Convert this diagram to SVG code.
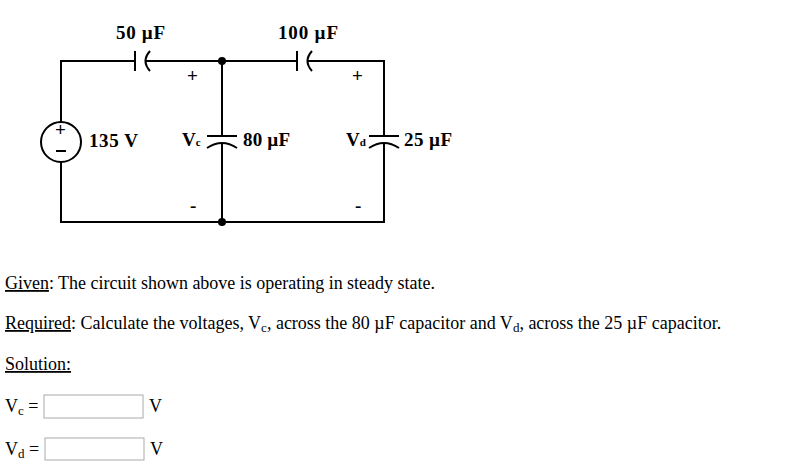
<svg xmlns="http://www.w3.org/2000/svg" width="791" height="472" viewBox="0 0 791 472">
<style>
.w{stroke:#000;stroke-width:2;fill:none}
.lb{font-family:"Liberation Serif",serif;font-weight:bold;font-size:19px}
.t{font-family:"Liberation Serif",serif;font-size:18px}
.box{fill:#fff;stroke:#aaa;stroke-width:1}
</style>
<rect width="791" height="472" fill="#fff"/>
<g id="connectors">
<path class="w" d="M61,122 V61 H135 M145,61 H297 M307,61 H384 V136 M384,143 V222 H61 V162 M222,61 V136 M222,143 V222"/>
</g>
<g id="c50"><path class="w" d="M135,51 V71 M150,51 Q141,61 150,71"/><text class="lb" x="116" y="39" textLength="49">50 µF</text></g>
<g id="c100"><path class="w" d="M297,51 V71 M312,51 Q303,61 312,71"/><text class="lb" x="278" y="39" textLength="60">100 µF</text></g>
<g id="c80"><path class="w" d="M207,136 H237 M207,148 Q222,138 237,148"/><text class="lb" x="243" y="146" textLength="47">80 µF</text><text class="lb" x="182" y="146">V<tspan font-size="11">c</tspan></text><text class="lb" x="187" y="82">+</text><text class="lb" x="190" y="212">-</text></g>
<g id="c25"><path class="w" d="M369,136 H399 M369,148 Q384,138 399,148"/><text class="lb" x="404" y="146" textLength="48">25 µF</text><text class="lb" x="346" y="146">V<tspan font-size="11">d</tspan></text><text class="lb" x="352" y="82">+</text><text class="lb" x="355" y="212">-</text></g>
<g id="src"><circle class="w" cx="61" cy="142" r="20"/><text class="lb" x="55" y="136" font-size="14">+</text><path d="M56,151 H66" stroke="#000" stroke-width="2"/><text class="lb" x="89" y="147" textLength="49">135 V</text></g>
<circle cx="222" cy="61" r="4"/><circle cx="222" cy="222" r="4"/>
<text class="t" x="5" y="289" textLength="430"><tspan text-decoration="underline">Given</tspan>: The circuit shown above is operating in steady state.</text>
<text class="t" x="5" y="329"><tspan text-decoration="underline">Required</tspan>: Calculate the voltages, V<tspan font-size="13" dy="3">c</tspan><tspan dy="-3">, across the 80 µF capacitor and V</tspan><tspan font-size="13" dy="3">d</tspan><tspan dy="-3">, across the 25 µF capacitor.</tspan></text>
<text class="t" x="5" y="370" text-decoration="underline">Solution:</text>
<text class="t" x="5" y="412">V<tspan font-size="13" dy="3">c</tspan><tspan dy="-3"> =</tspan></text>
<rect class="box" x="44" y="395" width="99" height="23"/>
<text class="t" x="149" y="412">V</text>
<text class="t" x="5" y="455">V<tspan font-size="13" dy="3">d</tspan><tspan dy="-3"> =</tspan></text>
<rect class="box" x="45" y="438" width="99" height="22"/>
<text class="t" x="150" y="455">V</text>
</svg>
